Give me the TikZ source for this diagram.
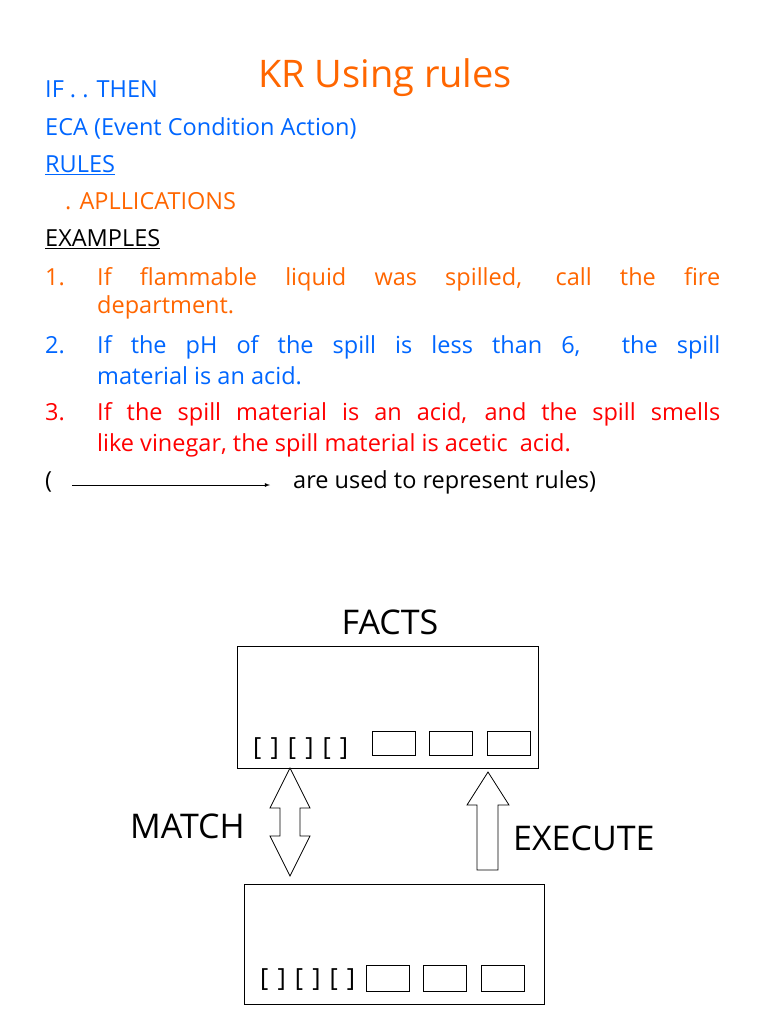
\documentclass[tikz,border=0pt]{standalone}
\usepackage{fontspec}
\setmainfont{Open Sans}
\usetikzlibrary{shapes.arrows}
\definecolor{korange}{RGB}{255,102,0}
\definecolor{kblue}{RGB}{0,102,255}
\definecolor{kred}{RGB}{255,0,0}
\begin{document}
\begin{tikzpicture}[x=1pt,y=-1pt,
  txt/.style={anchor=base west,inner sep=0pt,font=\fontsize{23.5}{26}\selectfont},
  big/.style={anchor=base,inner sep=0pt,font=\fontsize{34}{38}\selectfont},
  bx/.style={draw,line width=0.8pt},
  sb/.style={draw,line width=0.8pt,minimum width=43pt,minimum height=24pt,inner sep=0pt},
  fat/.style={draw,line width=0.8pt,fill=white}]
\useasboundingbox (0,0) rectangle (768,1024);
\node[big,text=korange,font=\fontsize{38}{42}\selectfont] (title) at (385,88) {KR Using rules};
\node[txt,text=kblue] (l1) at (45,98) {IF . . THEN};
\node[txt,text=kblue] (l2) at (45,136) {ECA (Event Condition Action)};
\node[txt,text=kblue] (l3) at (45,173) {\underline{RULES}};
\node[txt,text=korange] (l4) at (65,210) {. APLLICATIONS};
\node[txt] (l5) at (45,247) {\underline{EXAMPLES}};
\node[txt,text=korange] (n1) at (45,285) {1.};
\node[txt,text=korange] (t1a) at (97,285) {\makebox[623pt][s]{If flammable liquid was spilled, call the fire}};
\node[txt,text=korange] (t1b) at (97,313) {department.};
\node[txt,text=kblue] (n2) at (45,353) {2.};
\node[txt,text=kblue] (t2a) at (97,353) {\makebox[623pt][s]{If the pH of the spill is less than 6, \ the spill}};
\node[txt,text=kblue] (t2b) at (97,384) {material is an acid.};
\node[txt,text=kred] (n3) at (45,420) {3.};
\node[txt,text=kred] (t3a) at (97,420) {\makebox[623pt][s]{If the spill material is an acid, and the spill smells}};
\node[txt,text=kred] (t3b) at (97,451) {like vinegar, the spill material is acetic \ acid.};
\node[txt] (p1) at (45,488) {(};
\node[txt] (p2) at (293,488) {are used to represent rules)};
\coordinate (a1) at (72,485);
\coordinate (a2) at (270,485);
\draw[-latex,line width=0.8pt] (a1) -- (a2);
% diagram
\node[big] (facts) at (390,634) {FACTS};
\draw[bx] (237,646) rectangle (538,768);
\node[txt,font=\fontsize{25}{28}\selectfont] (br1) at (253,755) {\makebox[95pt][s]{[ ] [ ] [ ]}};
\node[sb] (s1) at (393.5,743) {};
\node[sb] (s2) at (451,743) {};
\node[sb] (s3) at (509,743) {};
\draw[bx] (244,884) rectangle (544,1004);
\node[txt,font=\fontsize{25}{28}\selectfont] (br2) at (260,986) {\makebox[95pt][s]{[ ] [ ] [ ]}};
\node[sb,minimum height=26pt] (u1) at (388,978) {};
\node[sb,minimum height=26pt] (u2) at (445,978) {};
\node[sb,minimum height=26pt] (u3) at (503,978) {};
\draw[fat] (290,768) -- (310,808) -- (300,808) -- (300,836) -- (310,836) -- (290,876) -- (270,836) -- (280,836) -- (280,808) -- (270,808) -- cycle;
\draw[fat] (488,772) -- (509,805) -- (498,805) -- (498,870) -- (477,870) -- (477,805) -- (467,805) -- cycle;
\node[big,anchor=base west] (match) at (130,838) {MATCH};
\node[big,anchor=base west] (exec) at (513,850) {EXECUTE};
\end{tikzpicture}
\end{document}
